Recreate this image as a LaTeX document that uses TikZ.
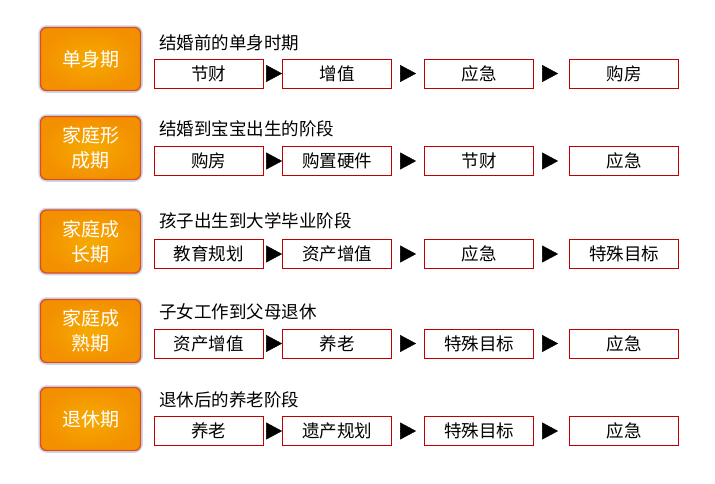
\documentclass[tikz,border=0pt]{standalone}
\usepackage{fontspec}
\setmainfont{Noto Sans CJK SC}
\usetikzlibrary{arrows.meta}

\definecolor{stageedge}{HTML}{E44A1A}
\definecolor{stagein}{HTML}{F6AA00}
\definecolor{stageout}{HTML}{F39000}
\definecolor{glow}{HTML}{C6D9F0}
\definecolor{taskedge}{HTML}{C00000}

\tikzset{
  stage/.style={draw=stageedge, line width=1.3pt, rounded corners=6pt,
    inner color=stagein, outer color=stageout,
    preaction={draw=glow, line width=4.5pt},
    minimum width=100pt, minimum height=63pt, inner sep=0pt,
    text=white, align=center, font=\fontsize{19pt}{25pt}\selectfont},
  note/.style={anchor=west, inner sep=0pt, font=\fontsize{17.5pt}{20pt}\selectfont},
  task/.style={draw=taskedge, line width=0.8pt, fill=white,
    minimum width=109pt, minimum height=29pt, inner sep=0pt,
    font=\fontsize{17.5pt}{20pt}\selectfont},
  tri/.style={-{Triangle[length=16pt,width=17pt]}, line width=0.4pt}
}

\begin{document}
\begin{tikzpicture}[x=1pt,y=-1pt]
\fill[white] (0,0) rectangle (715,483);
\useasboundingbox (0,0) rectangle (715,483);

% single
\node[stage] (s1) at (90.5,59) {单身期};
\node[note] (n1) at (159,43) {结婚前的单身时期};
\node[task] (a1) at (208.5,73.5) {节财};
\node[task] (a2) at (337,73.5) {增值};
\node[task] (a3) at (479,73.5) {应急};
\node[task] (a4) at (624,73.5) {购房};
\draw[tri,shorten <=3pt] (a1) -- (a2);
\draw[tri,shorten <=9pt,shorten >=8pt] (a2) -- (a3);
\draw[tri,shorten <=10pt,shorten >=11pt] (a3) -- (a4);

% forming
\node[stage] (s2) at (90.5,148) {家庭形\\成期};
\node[note] (n2) at (159,129) {结婚到宝宝出生的阶段};
\node[task] (b1) at (208.5,161) {购房};
\node[task] (b2) at (337,161) {购置硬件};
\node[task] (b3) at (479,161) {节财};
\node[task] (b4) at (624,161) {应急};
\draw[tri,shorten <=3pt] (b1) -- (b2);
\draw[tri,shorten <=9pt,shorten >=8pt] (b2) -- (b3);
\draw[tri,shorten <=10pt,shorten >=11pt] (b3) -- (b4);

% growing
\node[stage] (s3) at (90.5,241.5) {家庭成\\长期};
\node[note] (n3) at (159,221) {孩子出生到大学毕业阶段};
\node[task] (c1) at (208.5,254) {教育规划};
\node[task] (c2) at (337,254) {资产增值};
\node[task] (c3) at (479,254) {应急};
\node[task] (c4) at (624,254) {特殊目标};
\draw[tri,shorten <=3pt] (c1) -- (c2);
\draw[tri,shorten <=9pt,shorten >=8pt] (c2) -- (c3);
\draw[tri,shorten <=10pt,shorten >=11pt] (c3) -- (c4);

% mature
\node[stage] (s4) at (90.5,331) {家庭成\\熟期};
\node[note] (n4) at (159,312) {子女工作到父母退休};
\node[task] (d1) at (208.5,343.5) {资产增值};
\node[task] (d2) at (337,343.5) {养老};
\node[task] (d3) at (479,343.5) {特殊目标};
\node[task] (d4) at (624,343.5) {应急};
\draw[tri,shorten <=3pt] (d1) -- (d2);
\draw[tri,shorten <=9pt,shorten >=8pt] (d2) -- (d3);
\draw[tri,shorten <=10pt,shorten >=11pt] (d3) -- (d4);

% retired
\node[stage] (s5) at (90.5,419) {退休期};
\node[note] (n5) at (159,400) {退休后的养老阶段};
\node[task] (e1) at (208.5,431) {养老};
\node[task] (e2) at (337,431) {遗产规划};
\node[task] (e3) at (479,431) {特殊目标};
\node[task] (e4) at (624,431) {应急};
\draw[tri,shorten <=3pt] (e1) -- (e2);
\draw[tri,shorten <=9pt,shorten >=8pt] (e2) -- (e3);
\draw[tri,shorten <=10pt,shorten >=11pt] (e3) -- (e4);

\end{tikzpicture}
\end{document}
